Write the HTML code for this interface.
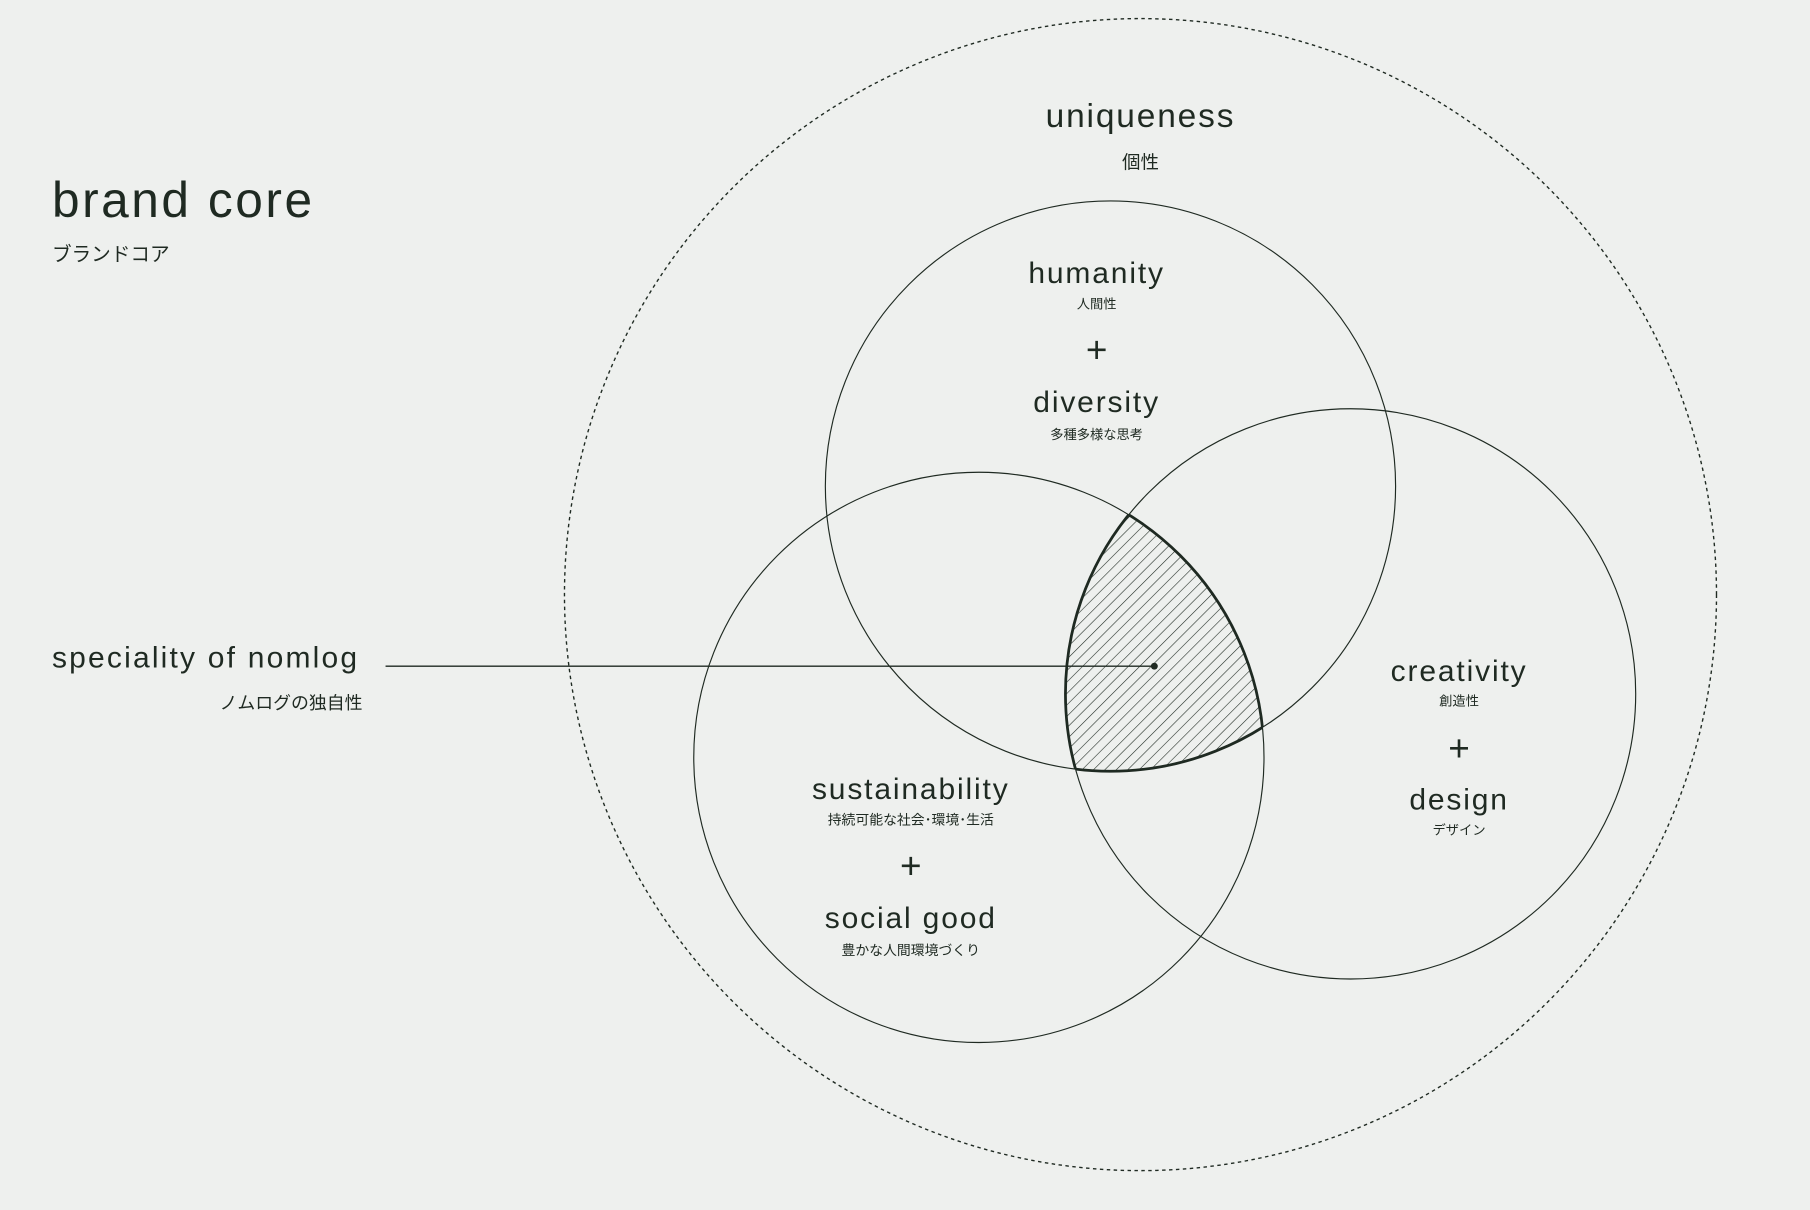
<!DOCTYPE html>
<html><head><meta charset="utf-8"><style>
html,body{margin:0;padding:0;background:#eef0ee;}
svg{display:block;}
text{font-family:"Liberation Sans","Noto Sans CJK JP",sans-serif;fill:#1f2a22;}
.b{letter-spacing:1.6px;}
</style></head><body>
<svg width="1810" height="1210" viewBox="0 0 1568 1048" xmlns="http://www.w3.org/2000/svg">
<defs>
<pattern id="h" width="7" height="7" patternUnits="userSpaceOnUse" patternTransform="rotate(45)">
<line x1="0" y1="0" x2="0" y2="7" stroke="#1f2a22" stroke-width="1"/>
</pattern>
<clipPath id="cA"><circle cx="962" cy="421" r="247"/></clipPath>
<clipPath id="cB"><circle cx="848" cy="656" r="247"/></clipPath>
<clipPath id="cC"><circle cx="1170" cy="601" r="247"/></clipPath>
</defs>
<rect width="1568" height="1048" fill="#eef0ee"/>
<circle cx="988" cy="515" r="499" fill="none" stroke="#1f2a22" stroke-width="1.2" stroke-dasharray="3,3"/>
<g clip-path="url(#cA)"><g clip-path="url(#cB)"><circle cx="1170" cy="601" r="247" fill="url(#h)" stroke="#1f2a22" stroke-width="2.4"/></g></g>
<g clip-path="url(#cA)"><g clip-path="url(#cC)"><circle cx="848" cy="656" r="247" fill="none" stroke="#1f2a22" stroke-width="2.4"/></g></g>
<g clip-path="url(#cB)"><g clip-path="url(#cC)"><circle cx="962" cy="421" r="247" fill="none" stroke="#1f2a22" stroke-width="2.4"/></g></g>
<circle cx="962" cy="421" r="247" fill="none" stroke="#1f2a22" stroke-width="1"/>
<circle cx="848" cy="656" r="247" fill="none" stroke="#1f2a22" stroke-width="1"/>
<circle cx="1170" cy="601" r="247" fill="none" stroke="#1f2a22" stroke-width="1"/>
<line x1="334" y1="577" x2="1000" y2="577" stroke="#1f2a22" stroke-width="1.2"/>
<circle cx="1000" cy="577" r="3" fill="#1f2a22"/>

<text x="45" y="188" font-size="43" letter-spacing="2.2">brand core</text>
<text x="45" y="226" font-size="17">ブランドコア</text>
<text x="45" y="578" font-size="26" letter-spacing="1.9">speciality of nomlog</text>
<text x="314" y="614" font-size="15.5" text-anchor="end">ノムログの独自性</text>

<g text-anchor="middle">
<text class="b" x="988" y="110" font-size="29">uniqueness</text>
<text x="988" y="146" font-size="16">個性</text>

<text class="b" x="950" y="245" font-size="26">humanity</text>
<text x="950" y="267" font-size="11.5">人間性</text>
<text x="950" y="314" font-size="32">+</text>
<text class="b" x="950" y="357" font-size="26">diversity</text>
<text x="950" y="380" font-size="11.5">多種多様な思考</text>

<text class="b" x="1264" y="590" font-size="26">creativity</text>
<text x="1264" y="611" font-size="11.5">創造性</text>
<text x="1264" y="659" font-size="32">+</text>
<text class="b" x="1264" y="701" font-size="26">design</text>
<text x="1264" y="723" font-size="11.5">デザイン</text>

<text class="b" x="789" y="692" font-size="26">sustainability</text>
<text x="789" y="714" font-size="12">持続可能な社会･環境･生活</text>
<text x="789" y="761" font-size="32">+</text>
<text class="b" x="789" y="804" font-size="26">social good</text>
<text x="789" y="827" font-size="12">豊かな人間環境づくり</text>
</g>
</svg>
</body></html>
